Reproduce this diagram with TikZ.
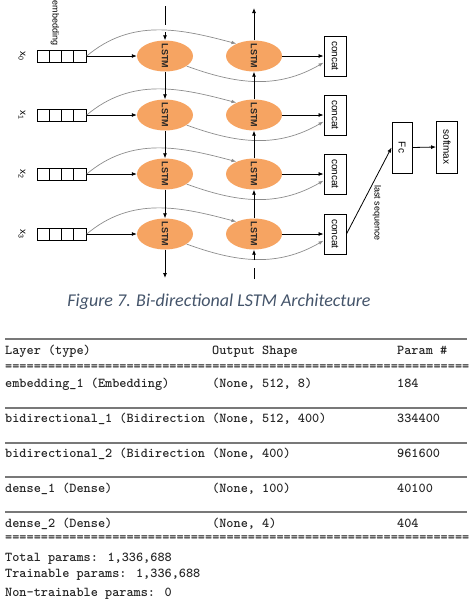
\documentclass[tikz,border=0pt]{standalone}
\usepackage{fontspec}
\usepackage{graphicx}
\usetikzlibrary{shapes.geometric,arrows.meta}

\newfontfamily\diagfont{Liberation Sans}
\newfontfamily\capfont{Carlito}

\definecolor{lstmorange}{RGB}{246,164,98}
\definecolor{capblue}{RGB}{68,84,106}
\definecolor{curvegray}{RGB}{140,140,140}
\definecolor{rulegray}{RGB}{120,120,120}

\newcommand\eqline{=================================================================}

\tikzset{
  lstm/.style={ellipse, fill=lstmorange, minimum width=56pt, minimum height=31pt,
    inner xsep=0pt, inner ysep=-1.5pt, text=black!85, font=\diagfont\bfseries\fontsize{9}{10}\selectfont},
  cell/.style={draw, line width=1pt, minimum width=12.3pt, minimum height=12pt, inner sep=0pt},
  boxnode/.style={draw, line width=0.9pt, inner sep=0pt, fill=white, font=\diagfont\fontsize{10}{11}\selectfont},
  flow/.style={-{Latex[length=5pt,width=4pt]}, line width=0.8pt},
  back/.style={-{Latex[length=5pt,width=3.5pt]}, curvegray, line width=0.7pt},
  sidelabel/.style={rotate=-90, inner sep=0pt, font=\diagfont\fontsize{9}{10}\selectfont},
  tabtext/.style={anchor=base west, inner sep=0pt, text=black!85, font=\ttfamily\bfseries\fontsize{13.6}{15}\selectfont},
}

\begin{document}
\begin{tikzpicture}[x=1pt,y=1pt]
  \useasboundingbox (0,-614) rectangle (474,0);

  % rows of the unrolled network
  \foreach \r/\yy in {0/56,1/115,2/174,3/234} {
    \node[sidelabel,font=\diagfont\fontsize{10}{11}\selectfont] (x\r) at (22,-\yy) {x\textsubscript{\r}};
    \foreach \c in {1,...,4}
      \node[cell] (e\r-\c) at ({30.85+12.3*\c},-\yy) {};
    \node[lstm] (L\r) at (165,-\yy) {\rotatebox{-90}{LSTM}};
    \node[lstm] (R\r) at (254,-\yy) {\rotatebox{-90}{LSTM}};
    \node[boxnode,minimum width=22pt,minimum height=40pt] (C\r) at (335,-\yy) {\rotatebox{-90}{concat}};
    \draw[flow] (e\r-4.east) -- (L\r.west);
    \draw[flow] (R\r.east) -- (C\r.west);
    \draw[back] (e\r-4.east) to[out=40,in=165] (R\r.145);
    \draw[back] (L\r.-25) to[out=-20,in=-150] (C\r.-150);
  }
  \node[sidelabel] (embed) at (55,-23) {embedding};

  % forward and backward chains
  \foreach \r/\s in {0/1,1/2,2/3} {
    \draw[flow] (L\r.south) -- (L\s.north);
    \draw[flow] (R\s.north) -- (R\r.south);
  }
  \coordinate (ltop) at (165,-6);
  \coordinate (rtop) at (254,-8);
  \coordinate (lbot) at (165,-278);
  \coordinate (rbot) at (254,-279);
  \draw[flow,dash pattern=on 19pt off 7pt] (ltop) -- (L0.north);
  \draw[flow] (R0.north) -- (rtop);
  \draw[flow] (L3.south) -- (lbot);
  \draw[flow,dash pattern=on 11pt off 8pt] (rbot) -- (R3.south);

  % output head
  \node[boxnode,minimum width=20pt,minimum height=51pt] (fc) at (402,-147.5) {\rotatebox{-90}{Fc}};
  \node[boxnode,minimum width=21pt,minimum height=52pt] (soft) at (447,-147) {\rotatebox{-90}{softmax}};
  \draw[flow] (C3.east) -- (fc.west);
  \draw[flow] (fc.east) -- (soft.west);
  \node[sidelabel] (lastseq) at (377,-213) {last sequence};

  % caption
  \node[text=capblue, font=\capfont\itshape\fontsize{18}{20}\selectfont] (caption) at (219,-302)
    {Figure 7. Bi-directional LSTM Architecture};

  % model summary
  \foreach \yy in {339,408,443,477,512}
    \draw[rulegray, line width=1.3pt] (5,-\yy) -- (467,-\yy);
  \node[tabtext] (hlayer) at (5,-354) {Layer (type)};
  \node[tabtext] (hshape) at (212,-354) {Output Shape};
  \node[tabtext] (hparam) at (397,-354) {Param \#};
  \node[tabtext] (eqtop) at (5,-370.5) {\eqline};
  \foreach \yy/\lay/\shp/\prm [count=\k] in {
      387/{embedding\_1 (Embedding)}/{(None, 512, 8)}/184,
      422/{bidirectional\_1 (Bidirection}/{(None, 512, 400)}/334400,
      457/{bidirectional\_2 (Bidirection}/{(None, 400)}/961600,
      492/{dense\_1 (Dense)}/{(None, 100)}/40100,
      527/{dense\_2 (Dense)}/{(None, 4)}/404} {
    \node[tabtext] (lay\k) at (5,-\yy) {\lay};
    \node[tabtext] (shp\k) at (212,-\yy) {\shp};
    \node[tabtext] (prm\k) at (397,-\yy) {\prm};
  }
  \node[tabtext] (eqbot) at (5,-541.5) {\eqline};
  \node[tabtext] (total) at (5,-561) {Total params: 1,336,688};
  \node[tabtext] (train) at (5,-577) {Trainable params: 1,336,688};
  \node[tabtext] (nontrain) at (5,-596) {Non-trainable params: 0};
\end{tikzpicture}
\end{document}
